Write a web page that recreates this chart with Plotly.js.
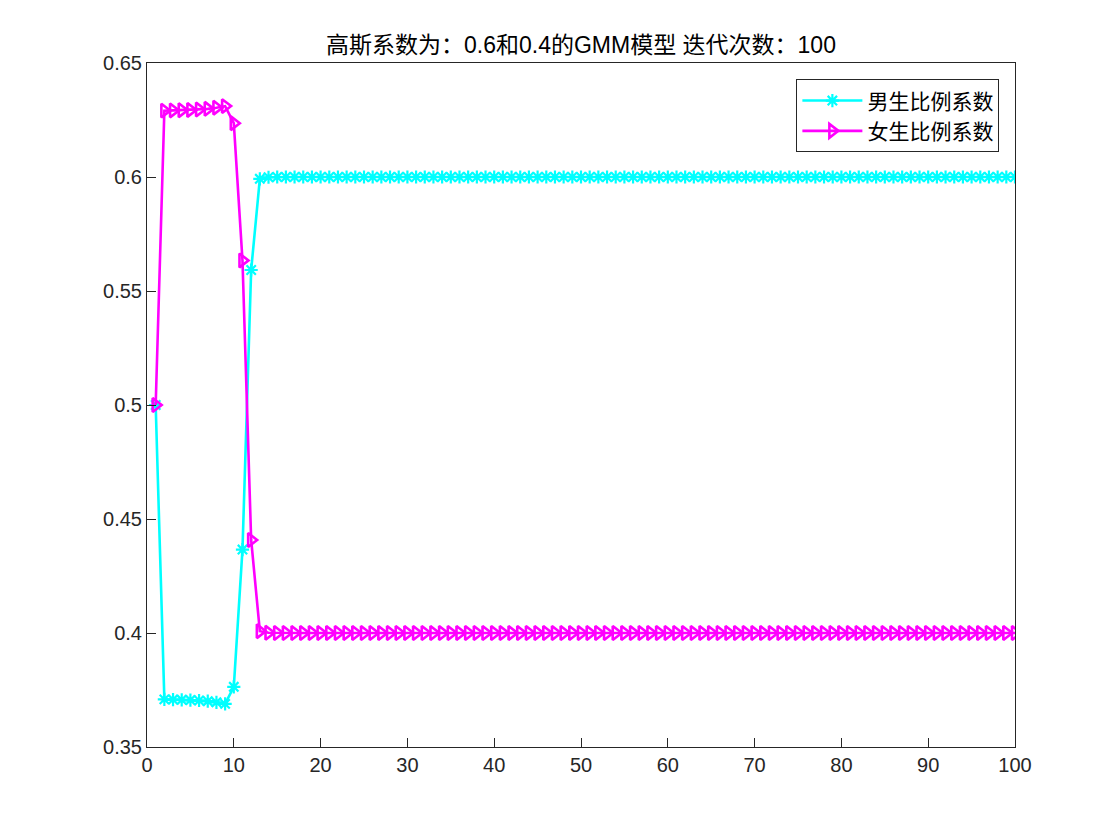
<!DOCTYPE html>
<html>
<head>
<meta charset="utf-8">
<script src="https://cdn.plot.ly/plotly-3.0.1.min.js"></script>
<style>body{margin:0;background:#fff;}#chart{width:1120px;height:840px;}</style>
</head>
<body>
<div id="chart"></div>
<script>
// Iterations 1..100
const iterations = Array.from({length: 100}, (_, i) => i + 1);
// Female coefficients for first iterations, then converged value
const femaleHead = [0.5, 0.6291, 0.6292, 0.6293, 0.6294, 0.6296, 0.6299, 0.6304, 0.6311, 0.6236, 0.5634, 0.4408, 0.4008, 0.4001];
const femaleTail = 0.4000;
const maleHead = [0.5, 0.3709, 0.3708, 0.3707, 0.3706, 0.3704, 0.3701, 0.3696, 0.3689, 0.3764, 0.4366, 0.5592, 0.5992, 0.5999];
const maleTail = 0.6000;
const female = iterations.map((x, i) => i < femaleHead.length ? femaleHead[i] : femaleTail);
const male = iterations.map((x, i) => i < maleHead.length ? maleHead[i] : maleTail);

const seriesNames = ['男生比例系数', '女生比例系数'];
const titleText = '高斯系数为：0.6和0.4的GMM模型 迭代次数：100';
const xTicks = [0,10,20,30,40,50,60,70,80,90,100];
const yTicks = [0.35,0.4,0.45,0.5,0.55,0.6,0.65];
const yTickText = ['0.35','0.4','0.45','0.5','0.55','0.6','0.65'];

const font = 'Liberation Sans, Arial, "Noto Sans CJK SC", sans-serif';
const axisColor = '#262626';

const traces = [
  {x: iterations, y: male, name: seriesNames[0], type: 'scatter', mode: 'lines+markers',
   line: {color: '#00FFFF', width: 2.6},
   marker: {symbol: 'asterisk-open', size: 11, color: '#00FFFF', line: {color: '#00FFFF', width: 2.2}}},
  {x: iterations, y: female, name: seriesNames[1], type: 'scatter', mode: 'lines+markers',
   line: {color: '#FF00FF', width: 2.6},
   marker: {symbol: 'triangle-right-open', size: 12, color: '#FF00FF', line: {color: '#FF00FF', width: 2.6}}}
];

const layout = {
  width: 1120, height: 840,
  paper_bgcolor: '#fff', plot_bgcolor: '#fff',
  margin: {l: 147, r: 105, t: 63, b: 93},
  font: {family: font, size: 20, color: axisColor},
  title: {text: titleText, x: 0.5, xanchor: 'center', y: 0.947, yanchor: 'middle',
          xref: 'paper', font: {family: font, size: 23, color: '#000'}},
  xaxis: {range: [0, 100], tickvals: xTicks, ticks: 'inside', ticklen: 9,
          tickcolor: axisColor, showline: true, mirror: true, linecolor: axisColor, linewidth: 1,
          showgrid: false, zeroline: false, tickfont: {size: 20, color: axisColor}},
  yaxis: {range: [0.35, 0.65], tickvals: yTicks, ticktext: yTickText,
          ticks: 'inside', ticklen: 9,
          tickcolor: axisColor, showline: true, mirror: true, linecolor: axisColor, linewidth: 1,
          showgrid: false, zeroline: false, tickfont: {size: 20, color: axisColor}},
  legend: {x: 0.982, y: 0.976, xanchor: 'right', yanchor: 'top', bgcolor: '#fff',
           bordercolor: axisColor, borderwidth: 1, font: {family: font, size: 21, color: '#000'},
           tracegroupgap: 0, itemwidth: 60},
  showlegend: true
};

Plotly.newPlot('chart', traces, layout, {displayModeBar: false, staticPlot: true});
</script>
</body>
</html>
